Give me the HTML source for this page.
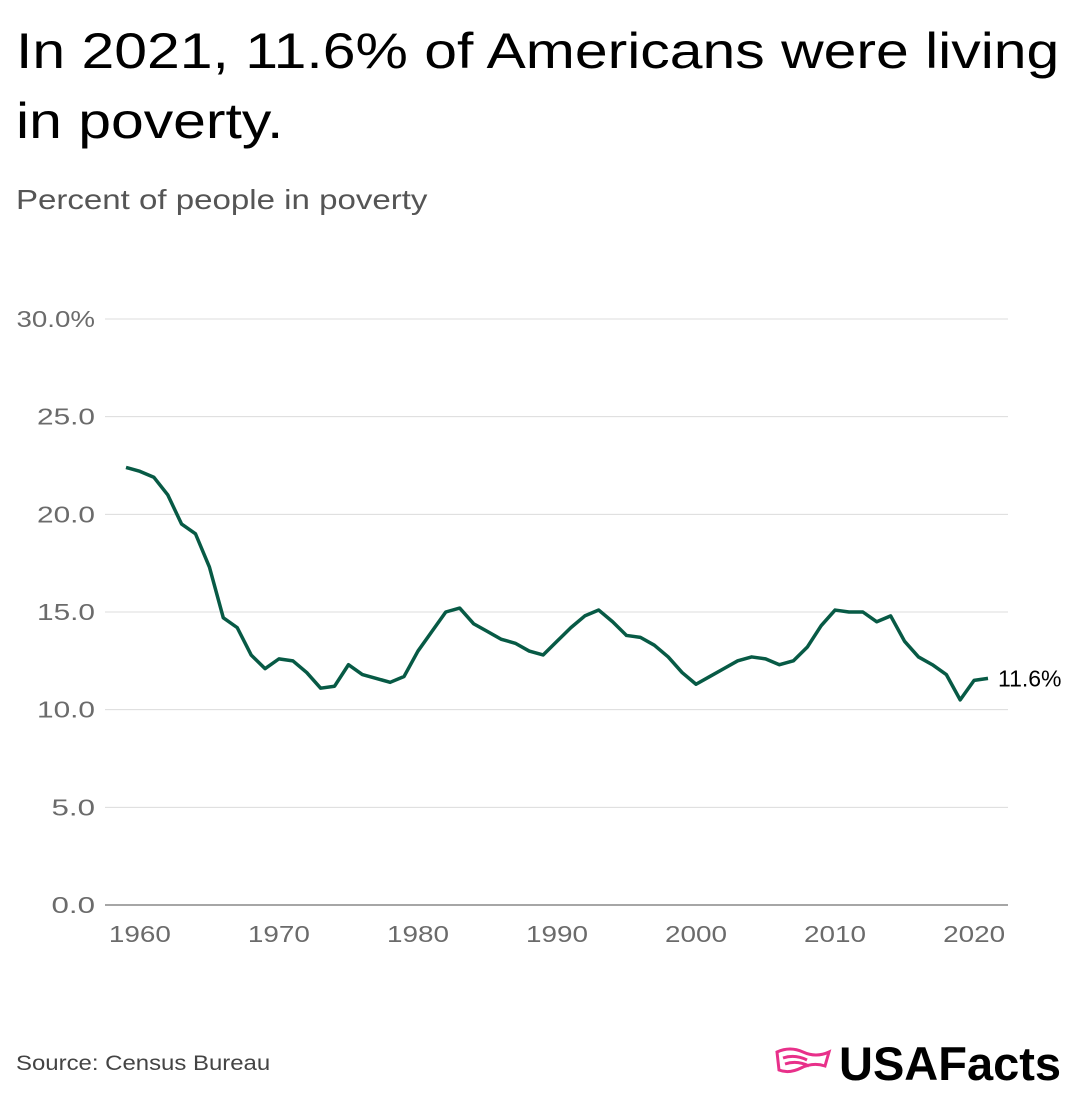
<!DOCTYPE html>
<html><head><meta charset="utf-8"><style>
body{margin:0;background:#fff;width:1080px;height:1100px;overflow:hidden;font-family:"Liberation Sans",sans-serif;position:relative}
#title{position:absolute;left:16px;top:16px;font-size:50px;line-height:70px;color:#000;margin:0;font-weight:normal;transform-origin:0 0;transform:scaleX(1.178);white-space:nowrap}
#sub{position:absolute;left:16px;top:184px;font-size:28px;color:#555;transform-origin:0 0;transform:scaleX(1.18);white-space:nowrap}
#src{position:absolute;left:16px;top:1052px;font-size:21px;color:#444;transform-origin:0 0;transform:scaleX(1.14);white-space:nowrap}
#logo{position:absolute;left:775px;top:1036px;font-size:47px;font-weight:bold;color:#000;white-space:nowrap}
</style></head><body>
<h1 id="title">In 2021, 11.6% of Americans were living<br>in poverty.</h1>
<div id="sub">Percent of people in poverty</div>
<svg id="chart" width="1080" height="1100" style="position:absolute;left:0;top:0"></svg>
<div id="src">Source: Census Bureau</div>
<div id="logo"><svg width="58" height="40" viewBox="0 0 58 40" style="vertical-align:-4px;margin-right:6px"><path d="M2 8 Q15 2 28 8 T54 8 L50 22 Q38 18 26 24 T4 26 Z M8 14 Q20 10 32 16 M10 20 Q22 16 34 22" fill="none" stroke="#e8308a" stroke-width="3"/></svg>USAFacts</div>
<script>
const years=[1959,1960,1961,1962,1963,1964,1965,1966,1967,1968,1969,1970,1971,1972,1973,1974,1975,1976,1977,1978,1979,1980,1981,1982,1983,1984,1985,1986,1987,1988,1989,1990,1991,1992,1993,1994,1995,1996,1997,1998,1999,2000,2001,2002,2003,2004,2005,2006,2007,2008,2009,2010,2011,2012,2013,2014,2015,2016,2017,2018,2019,2020,2021];
const rates=[22.4,22.2,21.9,21.0,19.5,19.0,17.3,14.7,14.2,12.8,12.1,12.6,12.5,11.9,11.1,11.2,12.3,11.8,11.6,11.4,11.7,13.0,14.0,15.0,15.2,14.4,14.0,13.6,13.4,13.0,12.8,13.5,14.2,14.8,15.1,14.5,13.8,13.7,13.3,12.7,11.9,11.3,11.7,12.1,12.5,12.7,12.6,12.3,12.5,13.2,14.3,15.1,15.0,15.0,14.5,14.8,13.5,12.7,12.3,11.8,10.5,11.5,11.6];
const yTicks=[0,5,10,15,20,25,30];
const yTickLabels=["0.0","5.0","10.0","15.0","20.0","25.0","30.0%"];
const xTicks=[1960,1970,1980,1990,2000,2010,2020];
const NS="http://www.w3.org/2000/svg";
const svg=document.getElementById('chart');
const x=v=>126+(v-1959)*(988-126)/62;
const y=v=>905-v*(905-319)/30;
function mk(t,a){const e=document.createElementNS(NS,t);for(const k in a)e.setAttribute(k,a[k]);svg.appendChild(e);return e;}
yTicks.forEach((t,i)=>{
 const g=mk('line',{x1:105,x2:1008,y1:y(t),y2:y(t),stroke:t===0?'#888':'#dcdcdc','stroke-width':t===0?1.5:1});
 
 
 const lbl=yTickLabels[i];
 const l=mk('text',{x:95,y:y(t)+8,'text-anchor':'end','font-size':23,fill:'#6b6b6b','font-family':'Liberation Sans',textLength:lbl.length*14.5+(lbl.includes('%')?6:0),lengthAdjust:'spacingAndGlyphs'});
 l.textContent=lbl;
 
 
});
xTicks.forEach(t=>{
 const l=mk('text',{x:x(t),y:942,'text-anchor':'middle','font-size':23,fill:'#6b6b6b','font-family':'Liberation Sans',textLength:62,lengthAdjust:'spacingAndGlyphs'});
 l.textContent=t;
 
 
});
const p=mk('path',{d:years.map((yr,i)=>(i?'L':'M')+x(yr)+','+y(rates[i])).join(''),fill:'none',stroke:'#075a45','stroke-width':3.5,'stroke-linejoin':'round'});


const last=rates.length-1;
const lab=mk('text',{x:x(years[last])+10,y:y(rates[last])+8,'font-size':23,fill:'#000','font-family':'Liberation Sans'});
lab.textContent=rates[last].toFixed(1)+'%';


</script>
</body></html>
